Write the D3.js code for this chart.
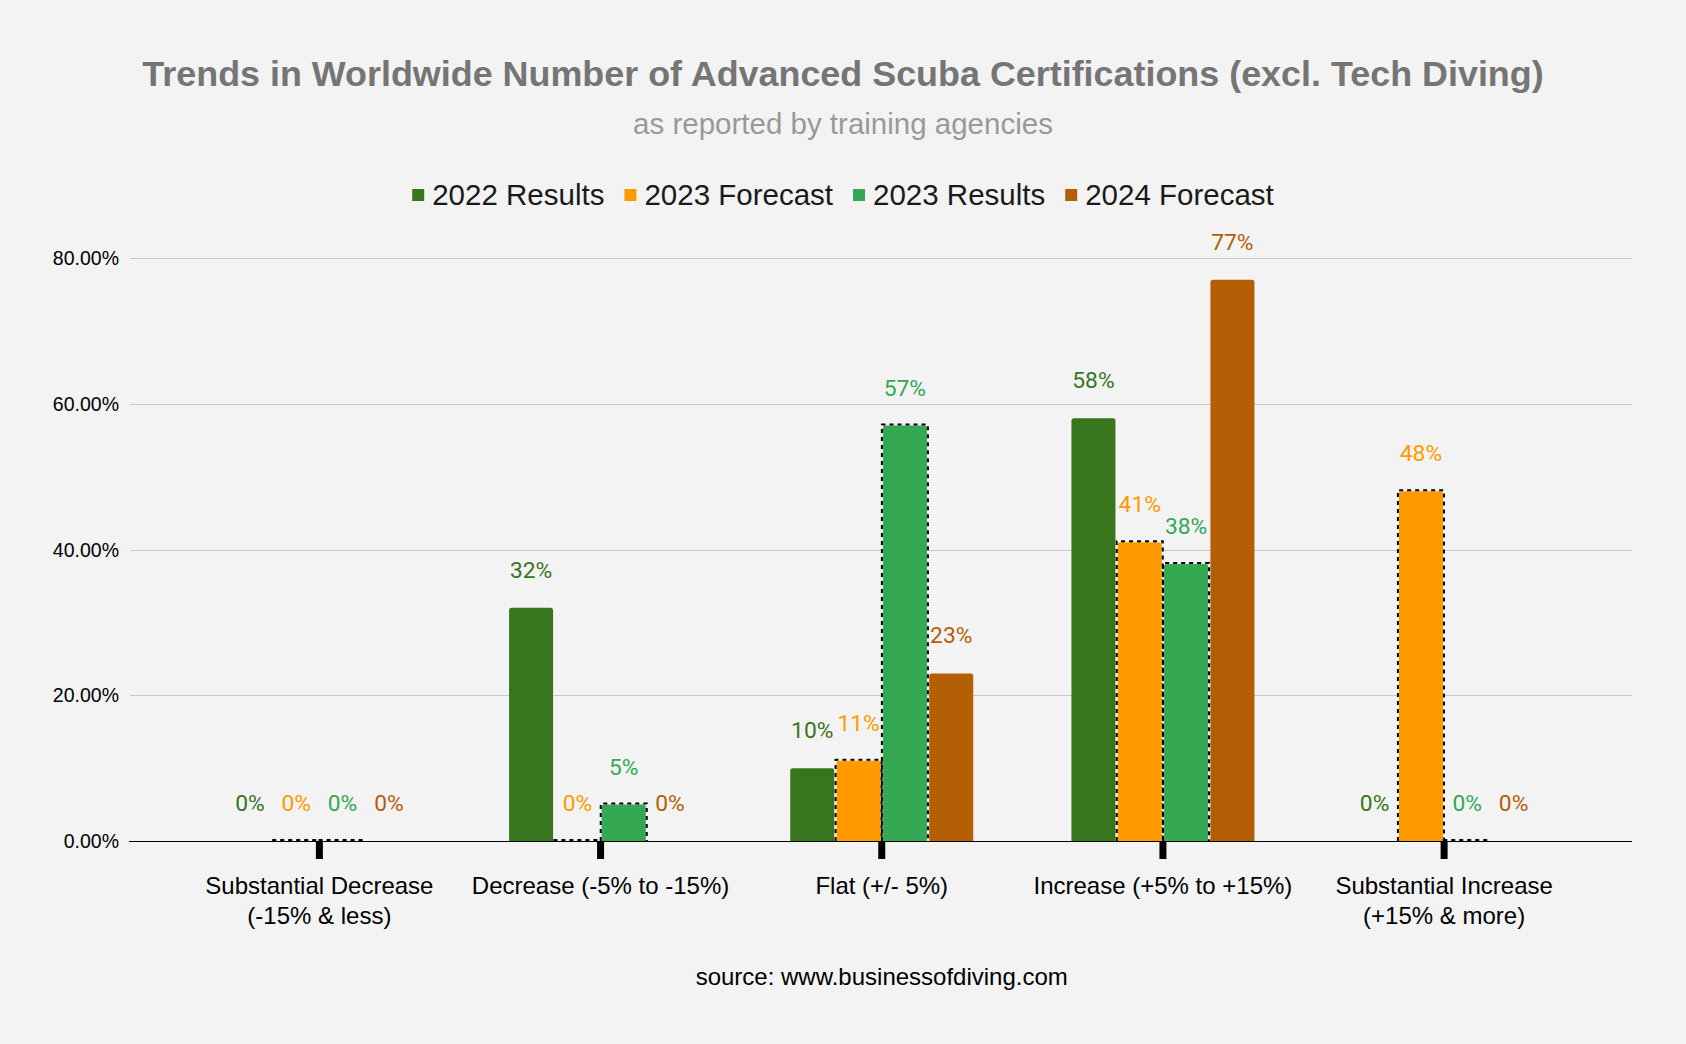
<!DOCTYPE html>
<html>
<head>
<meta charset="utf-8">
<script src="https://cdn.jsdelivr.net/npm/d3@7/dist/d3.min.js"></script>
<style>
  html, body { margin: 0; padding: 0; background: #f3f3f3; }
  svg { display: block; }
</style>
</head>
<body>
<div id="chart"></div>
<script>
// ------------------------------------------------------------
// Data
// ------------------------------------------------------------
const categories = [
    "Substantial Decrease\n(-15% & less)",
    "Decrease (-5% to -15%)",
    "Flat (+/- 5%)",
    "Increase (+5% to +15%)",
    "Substantial Increase\n(+15% & more)"
];
const seriesNames = ["2022 Results", "2023 Forecast", "2023 Results", "2024 Forecast"];
const results2022  = [0, 32, 10, 58, 0];
const forecast2023 = [0, 0, 11, 41, 48];
const results2023  = [0, 5, 57, 38, 0];
const forecast2024 = [0, 0, 23, 77, 0];
const yTicks = [0, 20, 40, 60, 80];

const seriesValues = [results2022, forecast2023, results2023, forecast2024];

// styling per series
const colors = ["#38761d", "#ff9900", "#34a853", "#b45f06"];
const dashed = [false, true, true, false];

// ------------------------------------------------------------
// Dimensions
// ------------------------------------------------------------
const width = 1686;
const height = 1044;
const plotLeft = 129, plotRight = 1632;
const bandLeft = 178.8, bandRight = 1584.7;
const yTop = 258, yBottom = 841;
const sansFont = "'Liberation Sans', Arial, sans-serif";
const labelFont = "Roboto, 'Liberation Sans', sans-serif";

const svg = d3.select("#chart").append("svg")
    .attr("width", width)
    .attr("height", height)
    .style("background", "#f3f3f3");

// ------------------------------------------------------------
// Scales
// ------------------------------------------------------------
const x0 = d3.scaleBand()
    .domain(categories)
    .range([bandLeft, bandRight]);

const x1 = d3.scaleBand()
    .domain(seriesNames)
    .range([-91.5, 91.5])
    .paddingInner(0.05);

const y = d3.scaleLinear()
    .domain([0, 80])
    .range([yBottom, yTop]);

// flat list of bars
const bars = [];
seriesNames.forEach((s, si) => {
    categories.forEach((c, ci) => {
        bars.push({ series: s, si: si, category: c, value: seriesValues[si][ci] });
    });
});

// ------------------------------------------------------------
// Titles
// ------------------------------------------------------------
svg.append("text")
    .attr("x", 843)
    .attr("y", 86)
    .attr("text-anchor", "middle")
    .style("font-family", sansFont)
    .style("font-weight", "bold")
    .style("font-size", "35.9px")
    .style("fill", "#757575")
    .text("Trends in Worldwide Number of Advanced Scuba Certifications (excl. Tech Diving)");

svg.append("text")
    .attr("x", 843)
    .attr("y", 134)
    .attr("text-anchor", "middle")
    .style("font-family", sansFont)
    .style("font-size", "29.5px")
    .style("fill", "#999999")
    .text("as reported by training agencies");

// ------------------------------------------------------------
// Legend
// ------------------------------------------------------------
const legend = svg.append("g");
const legendItems = legend.selectAll("g")
    .data(seriesNames)
    .enter()
    .append("g");

legendItems.append("rect")
    .attr("y", 189)
    .attr("width", 12)
    .attr("height", 12)
    .attr("fill", (d, i) => colors[i]);

legendItems.append("text")
    .attr("x", 20)
    .attr("y", 205)
    .style("font-family", sansFont)
    .style("font-size", "29.5px")
    .style("fill", "#1a1a1a")
    .text(d => d);

// place legend items side by side, centred
let cursor = 0;
const offsets = [];
legendItems.each(function() {
    const w = d3.select(this).select("text").node().getComputedTextLength();
    offsets.push(cursor);
    cursor += 20 + w + 20;
});
const legendWidth = cursor - 20;
const legendStart = 843 - legendWidth / 2;
legendItems.attr("transform", (d, i) => `translate(${legendStart + offsets[i]},0)`);

// ------------------------------------------------------------
// Grid lines and y labels
// ------------------------------------------------------------
svg.append("g")
    .selectAll("line")
    .data(yTicks.filter(t => t > 0))
    .enter()
    .append("line")
    .attr("x1", plotLeft + 1)
    .attr("x2", plotRight)
    .attr("y1", d => Math.round(y(d)) + 0.5)
    .attr("y2", d => Math.round(y(d)) + 0.5)
    .attr("stroke", "#c8c8c8")
    .attr("stroke-width", 1);

svg.append("g")
    .selectAll("text")
    .data(yTicks)
    .enter()
    .append("text")
    .attr("x", 119)
    .attr("y", d => y(d))
    .attr("dy", "0.36em")
    .attr("text-anchor", "end")
    .style("font-family", sansFont)
    .style("font-size", "19.5px")
    .style("fill", "#000")
    .text(d => d3.format(".2f")(d) + "%");

// ------------------------------------------------------------
// Bars
// ------------------------------------------------------------
const barX = d => x0(d.category) + x0.bandwidth() / 2 + x1(d.series);

svg.append("g")
    .selectAll("path")
    .data(bars.filter(d => d.value > 0))
    .enter()
    .append("path")
    .attr("d", d => {
        const xa = barX(d), xb = xa + x1.bandwidth();
        const yt = y(d.value), yb = y(0), r = 2.5;
        return `M${xa},${yb} V${yt + r} Q${xa},${yt} ${xa + r},${yt} H${xb - r} Q${xb},${yt} ${xb},${yt + r} V${yb} Z`;
    })
    .attr("fill", d => colors[d.si]);

// dotted outlines for the 2023 series (also drawn when the value is zero)
svg.append("g")
    .selectAll("path")
    .data(bars.filter(d => dashed[d.si]))
    .enter()
    .append("path")
    .attr("d", d => {
        const xa = barX(d) - 1, xb = barX(d) + x1.bandwidth() + 1;
        const yt = y(d.value) - 1, yb = y(0);
        return `M${xa},${yb} V${yt} H${xb} V${yb}`;
    })
    .attr("fill", "none")
    .attr("stroke", "#000")
    .attr("stroke-width", 2)
    .attr("stroke-dasharray", "4 4");

// ------------------------------------------------------------
// X axis: baseline, thick ticks and category labels
// ------------------------------------------------------------
svg.append("line")
    .attr("x1", plotLeft)
    .attr("x2", plotRight)
    .attr("y1", yBottom + 0.5)
    .attr("y2", yBottom + 0.5)
    .attr("stroke", "#000")
    .attr("stroke-width", 1);

const xAxis = d3.axisBottom(x0)
    .tickSize(18)
    .tickFormat("");

const xAxisG = svg.append("g")
    .attr("transform", `translate(0,${yBottom})`)
    .call(xAxis);
xAxisG.select(".domain").remove();
xAxisG.selectAll(".tick line")
    .attr("stroke", "#000")
    .attr("stroke-width", 7);

const catLabels = svg.append("g")
    .selectAll("text")
    .data(categories)
    .enter()
    .append("text")
    .attr("x", d => x0(d) + x0.bandwidth() / 2)
    .attr("y", 894)
    .attr("text-anchor", "middle")
    .style("font-family", sansFont)
    .style("font-size", "24px")
    .style("fill", "#000");

catLabels.each(function(d) {
    const lines = d.split("\n");
    const t = d3.select(this);
    lines.forEach((line, i) => {
        t.append("tspan")
            .attr("x", x0(d) + x0.bandwidth() / 2)
            .attr("dy", i === 0 ? 0 : 29.5)
            .text(line);
    });
});

// ------------------------------------------------------------
// Value labels
// ------------------------------------------------------------
svg.append("g")
    .selectAll("text")
    .data(bars)
    .enter()
    .append("text")
    .attr("x", d => barX(d) + x1.bandwidth() / 2)
    .attr("y", d => y(d.value) - 30)
    .attr("text-anchor", "middle")
    .style("font-family", labelFont)
    .style("font-size", "22.8px")
    .style("fill", d => colors[d.si])
    .text(d => d.value + "%");

// ------------------------------------------------------------
// Source note
// ------------------------------------------------------------
svg.append("text")
    .attr("x", (bandLeft + bandRight) / 2)
    .attr("y", 985)
    .attr("text-anchor", "middle")
    .style("font-family", sansFont)
    .style("font-size", "24px")
    .style("fill", "#000")
    .text("source: www.businessofdiving.com");
</script>
</body>
</html>
